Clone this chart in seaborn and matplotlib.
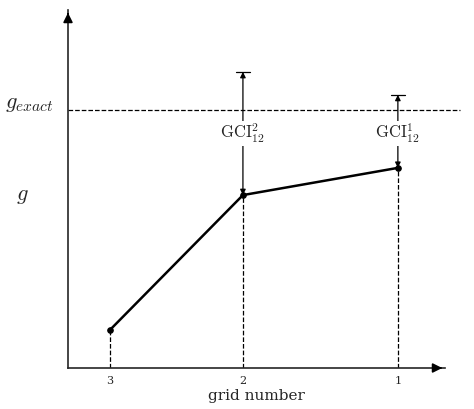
import matplotlib
matplotlib.use("Agg")
import matplotlib.pyplot as plt
import seaborn as sns
import pandas as pd

# grid positions along x (left to right) and g values
grid_labels = ["3", "2", "1"]
grid_pos = [0.111, 0.464, 0.875]
g_vals = [0.106, 0.483, 0.559]
g_exact = 0.72
gci_top = [None, 0.827, 0.763]
gci_names = [None, r"$\mathrm{GCI}_{12}^{2}$", r"$\mathrm{GCI}_{12}^{1}$"]

sns.set_style("white")
plt.rcParams["mathtext.fontset"] = "cm"
plt.rcParams["font.family"] = ["DejaVu Serif"]

fig = plt.figure(figsize=(4.74, 4.09), dpi=100)
ax = fig.add_axes([68 / 474, 41 / 409, 377 / 474, 358 / 409])
df = pd.DataFrame({"x": grid_pos, "g": g_vals})
sns.lineplot(data=df, x="x", y="g", ax=ax, color="black", lw=1.8,
             marker="o", markersize=4, markeredgecolor="black")
ax.set_xlim(0, 1)
ax.set_ylim(0, 1)
ax.set_ylabel("")

for x, g in zip(grid_pos, g_vals):
    ax.plot([x, x], [0, g], ls="--", color="black", lw=0.9)
ax.axhline(g_exact, ls="--", color="black", lw=0.9, xmax=1.04, clip_on=False)

for x, g, top, name in zip(grid_pos, g_vals, gci_top, gci_names):
    if top is None:
        continue
    ax.annotate("", xy=(x, g), xytext=(x, top),
                arrowprops=dict(arrowstyle="<|-|>", color="black", lw=0.9,
                                shrinkA=0, shrinkB=0, mutation_scale=8))
    ax.plot([x - 0.018, x + 0.018], [top, top], color="black", lw=0.9)
    ax.text(x, 0.655, name, ha="center", va="center", fontsize=12,
            bbox=dict(facecolor="white", edgecolor="none", pad=1))

ax.set_xticks(grid_pos)
ax.set_xticklabels(grid_labels, fontsize=8)
ax.set_yticks([])
ax.tick_params(axis="x", length=0, pad=6)
ax.set_xlabel("grid number", fontsize=11, labelpad=2)
for s in ["top", "right"]:
    ax.spines[s].set_visible(False)
for s in ["left", "bottom"]:
    ax.spines[s].set_linewidth(1.2)
ax.annotate("", xy=(1.0, 0), xytext=(0.98, 0), xycoords="axes fraction",
            arrowprops=dict(arrowstyle="-|>", color="black", mutation_scale=14, lw=1.2))
ax.annotate("", xy=(0, 1.0), xytext=(0, 0.98), xycoords="axes fraction",
            arrowprops=dict(arrowstyle="-|>", color="black", mutation_scale=14, lw=1.2))

fig.text(22 / 474, 1 - 195 / 409, r"$g$", fontsize=16, ha="center", va="center")
fig.text(5 / 474, 1 - 103 / 409, r"$g_{exact}$", fontsize=16, ha="left", va="center")

fig.savefig("out.png", dpi=100)
